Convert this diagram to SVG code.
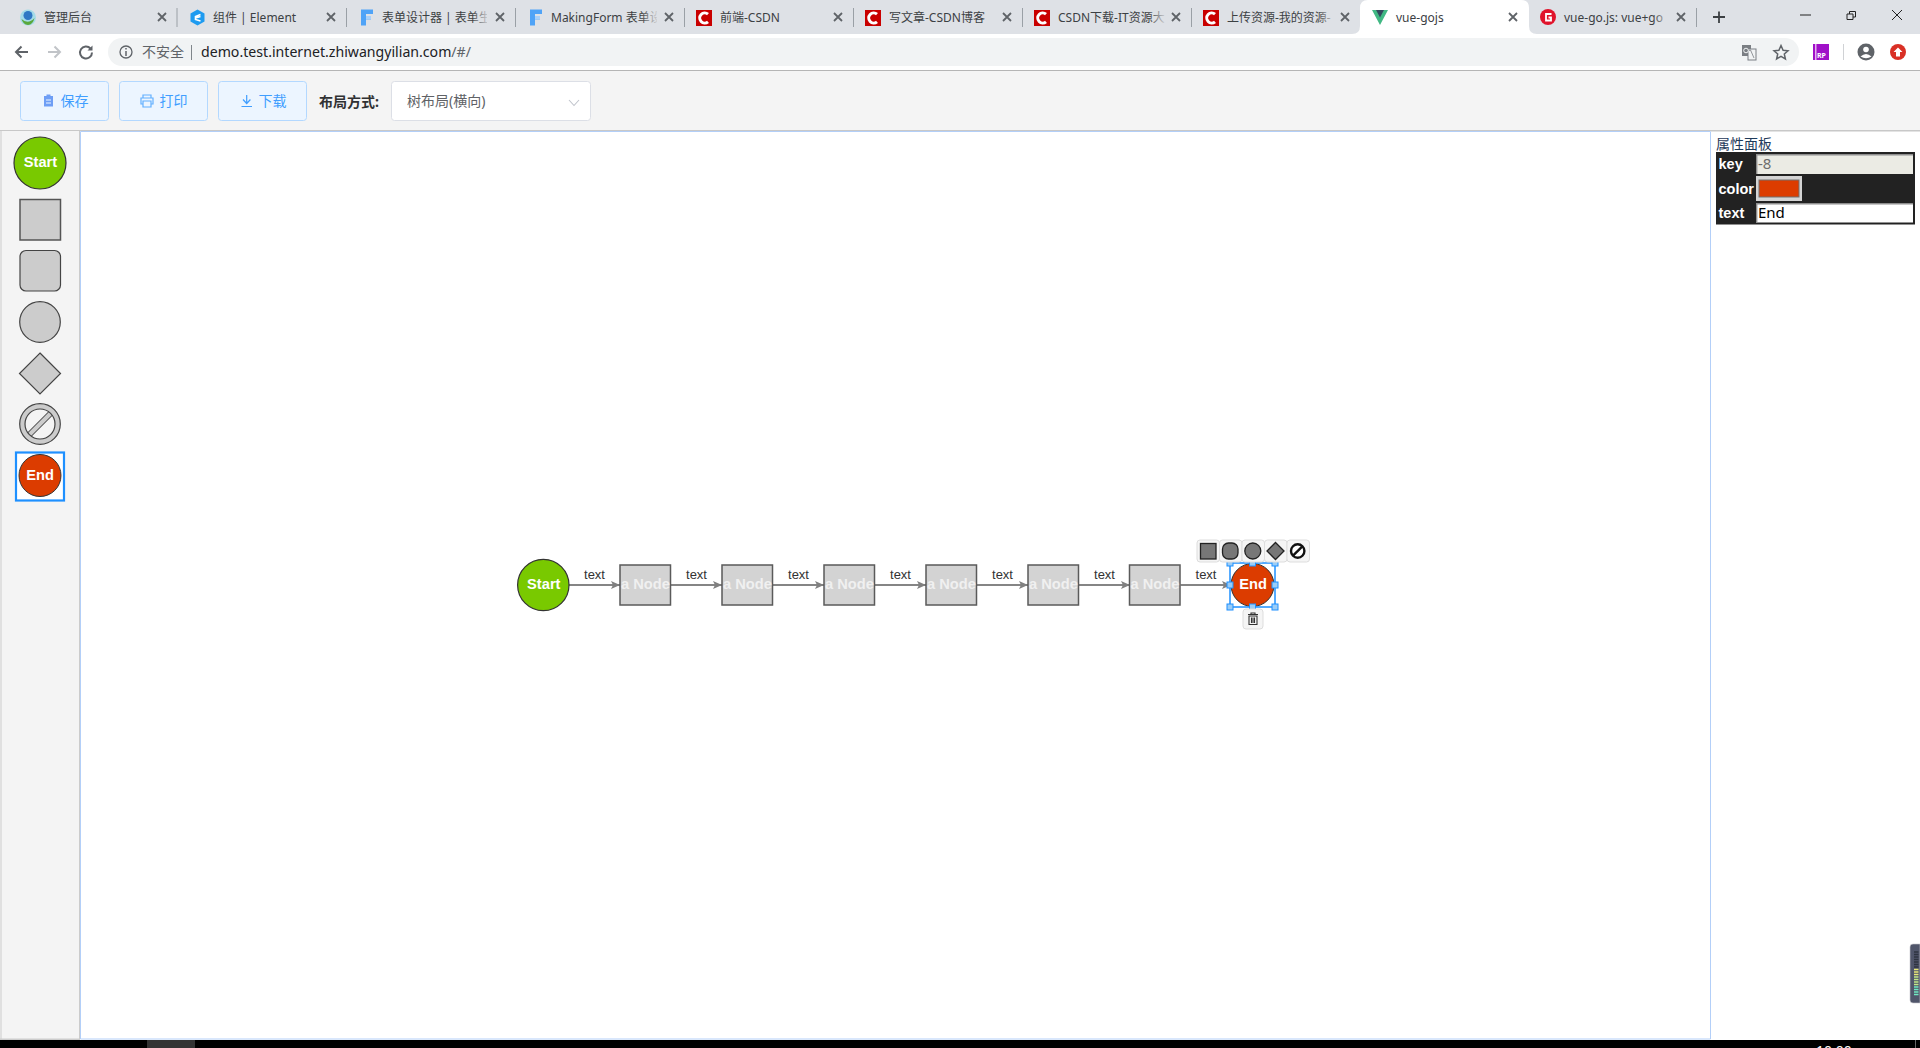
<svg xmlns="http://www.w3.org/2000/svg" xmlns:xlink="http://www.w3.org/1999/xlink" width="1920" height="1048" viewBox="0 0 1920 1048">
<style>
text{font-family:"Noto Sans","Noto Sans CJK SC",sans-serif}
.tab{font-size:12px;fill:#3c4043}
.sep{stroke:#9aa0a6;stroke-width:1}
.btn{fill:#ecf5ff;stroke:#b3d8ff;stroke-width:1}
.btnt{font-size:14px;fill:#409eff}
.ico{fill:none;stroke:#409eff;stroke-width:1.2}
.pal{fill:#ccc;stroke:#444;stroke-width:1.2}
.node{fill:#d3d3d3;stroke:#5a5a5a;stroke-width:1.5}
.nt{font-family:"Liberation Sans",Arial,sans-serif;font-size:14.67px;font-weight:700;fill:#f0f0f0;text-anchor:middle}
.wt{font-family:"Liberation Sans",Arial,sans-serif;font-size:14.67px;font-weight:700;fill:#fff;text-anchor:middle}
.lt{font-family:"Liberation Sans",Arial,sans-serif;font-size:13px;fill:#333;text-anchor:middle}
.link{fill:none;stroke:#858585;stroke-width:2;marker-end:url(#arrow)}
.h{fill:#9bcdf7;stroke:#1e90ff;stroke-width:1}
.ab{fill:#f5f5f5;stroke:#ddd;stroke-width:1}
.abi{fill:#777;stroke:#222;stroke-width:1.3}
.pl{font-family:"Liberation Sans",Arial,sans-serif;font-size:14.5px;font-weight:700;fill:#fff}
</style>
<defs>
<marker id="arrow" markerUnits="userSpaceOnUse" markerWidth="9" markerHeight="10" refX="9" refY="5" orient="auto"><path d="M0 1 L9 5 L0 9 L2 5 Z" fill="#808080"/></marker>
<linearGradient id="fade"><stop offset="0" stop-color="#dee1e6" stop-opacity="0"/><stop offset="1" stop-color="#dee1e6"/></linearGradient>
<g id="x"><path d="M-4 -4 L4 4 M4 -4 L-4 4" stroke="#5f6368" stroke-width="1.8" fill="none"/></g>
<g id="csdn"><rect x="0" y="0" width="16" height="16" fill="#c90000"/><path d="M12 4.2 A5 5 0 1 0 12 11.8" fill="none" stroke="#fff" stroke-width="3"/></g>
<g id="fform"><path d="M0 0 H12 V4.500 H5 V6.500 H10 V10 H5 V16 H0 Z" fill="#4fa3f7"/><rect x="5" y="6.500" width="5" height="3.500" fill="#a8d0fa"/></g>
</defs>
<rect width="1920" height="1048" fill="#fff"/>
<g id="browser-tabs">
<rect x="0" y="0" width="1920" height="34" fill="#dee1e6"/>
<path d="M1352 34 Q1360 34 1360 26 V8 Q1360 0 1368 0 H1521 Q1529 0 1529 8 V26 Q1529 34 1537 34 Z" fill="#fff"/>
<path class="sep" d="M177 8V27M346.500 8V27M515.500 8V27M684.500 8V27M853.500 8V27M1022.500 8V27M1191.500 8V27M1696.500 8V27"/>
<circle cx="28" cy="17.500" r="8" fill="#a4dbe8"/><circle cx="28" cy="15.500" r="4.500" fill="#2f78c4"/><path d="M21.500 19 Q28 25 34.500 18 Q33 24.500 28 25 Q23 24.500 21.500 19Z" fill="#5aa83c"/>
<path d="M197.500 9.500 L204.500 13.500 V21.500 L197.500 25.500 L190.500 21.500 V13.500 Z" fill="#1e9bf0"/><path d="M200.500 14.500 L195.500 16.500 V19.500 L200.500 21 M195.500 18 L200.500 16.500" fill="none" stroke="#fff" stroke-width="1.600"/>
<use href="#fform" x="361" y="9.500"/><use href="#fform" x="530" y="9.500"/>
<use href="#csdn" x="696" y="10"/><use href="#csdn" x="865" y="10"/><use href="#csdn" x="1034" y="10"/><use href="#csdn" x="1203" y="10"/>
<path d="M1372 10 H1388 L1380 25 Z" fill="#41b883"/><path d="M1376 10 H1384 L1380 17.500 Z" fill="#34495e"/>
<circle cx="1548" cy="17" r="8" fill="#e0142c"/><path d="M1551.500 14 H1546 V20.500 H1551 V17.500 H1548.500" fill="none" stroke="#fff" stroke-width="1.800"/>
<text class="tab" x="44" y="22">管理后台</text>
<text class="tab" x="213" y="22">组件 | Element</text>
<text class="tab" x="382" y="22">表单设计器 | 表单生</text>
<text class="tab" x="551" y="22">MakingForm 表单设</text>
<text class="tab" x="720" y="22">前端-CSDN</text>
<text class="tab" x="889" y="22">写文章-CSDN博客</text>
<text class="tab" x="1058" y="22">CSDN下载-IT资源大</text>
<text class="tab" x="1227" y="22">上传资源-我的资源-</text>
<text class="tab" x="1396" y="22">vue-gojs</text>
<text class="tab" x="1564" y="22">vue-go.js: vue+go</text>
<rect x="472" y="6" width="18" height="22" fill="url(#fade)"/><rect x="487" y="6" width="8" height="22" fill="#dee1e6"/>
<rect x="641" y="6" width="18" height="22" fill="url(#fade)"/><rect x="657" y="6" width="7" height="22" fill="#dee1e6"/>
<rect x="1149" y="6" width="18" height="22" fill="url(#fade)"/><rect x="1165" y="6" width="6" height="22" fill="#dee1e6"/>
<rect x="1318" y="6" width="18" height="22" fill="url(#fade)"/><rect x="1334" y="6" width="6" height="22" fill="#dee1e6"/>
<rect x="1653" y="6" width="18" height="22" fill="url(#fade)"/><rect x="1669" y="6" width="6" height="22" fill="#dee1e6"/>
<use href="#x" x="162" y="17"/><use href="#x" x="331" y="17"/><use href="#x" x="500" y="17"/><use href="#x" x="669" y="17"/><use href="#x" x="838" y="17"/><use href="#x" x="1007" y="17"/><use href="#x" x="1176" y="17"/><use href="#x" x="1345" y="17"/><use href="#x" x="1513" y="17"/><use href="#x" x="1681" y="17"/>
<path d="M1719 11.500V23M1713 17H1725" stroke="#3c4043" stroke-width="1.800" fill="none"/>
<path d="M1800 15H1811M1847 14V19.500H1853V14ZM1849.500 14V11.500H1855.500V17H1853M1892 10L1902 20M1902 10L1892 20" stroke="#222" stroke-width="1" fill="none"/>
</g>
<g id="browser-toolbar">
<rect x="0" y="34" width="1920" height="36" fill="#fff"/>
<rect x="0" y="70" width="1920" height="1" fill="#b5b5b5"/>
<rect x="108" y="38" width="1691" height="28" rx="14" fill="#f1f3f4"/>
<path d="M28 52H16M21.500 46.500L16 52L21.500 57.500" fill="none" stroke="#5f6368" stroke-width="2"/>
<path d="M48 52H60M54.500 46.500L60 52L54.500 57.500" fill="none" stroke="#c1c4c8" stroke-width="2"/>
<path d="M90.500 48.500A6 6 0 1 0 92 52.500" fill="none" stroke="#5f6368" stroke-width="2"/><path d="M92.500 45.500V50.500H87.500Z" fill="#5f6368"/>
<circle cx="126" cy="52" r="6" fill="none" stroke="#5f6368" stroke-width="1.300"/><path d="M126 51V56M126 48V49.500" stroke="#5f6368" stroke-width="1.500"/>
<text x="142" y="57" font-size="14" fill="#5f6368">不安全</text>
<rect x="191" y="45" width="1" height="15" fill="#80868b"/>
<text x="201" y="57" font-size="14" fill="#202124" textLength="270" lengthAdjust="spacingAndGlyphs">demo.test.internet.zhiwangyilian.com<tspan fill="#5f6368">/#/</tspan></text>
<rect x="1742" y="45" width="9" height="11" fill="#7a7e83"/><rect x="1748" y="49" width="8" height="11" fill="#f1f3f4" stroke="#7a7e83" stroke-width="1"/><path d="M1749 50.500L1750.500 50L1754 58" stroke="#7a7e83" stroke-width="0.800" fill="none"/><circle cx="1746" cy="50.500" r="2.300" fill="none" stroke="#f1f3f4" stroke-width="1"/>
<path d="M1781 45.500L1783.100 50.200L1788 50.700L1784.300 54L1785.400 59L1781 56.400L1776.600 59L1777.700 54L1774 50.700L1778.900 50.200Z" fill="none" stroke="#5f6368" stroke-width="1.500"/>
<rect x="1813" y="44" width="16" height="16" fill="#a010c8"/><rect x="1815" y="44" width="1.500" height="16" fill="#e6b0f0"/>
<text x="1817" y="58" font-size="7" font-weight="700" fill="#fff">RP</text>
<rect x="1843" y="44" width="1" height="16" fill="#d0d2d5"/>
<circle cx="1866" cy="52" r="8.500" fill="#5f6368"/><circle cx="1866" cy="49.500" r="2.800" fill="#fff"/><path d="M1860.500 56.500Q1866 51.500 1871.500 56.500Q1866 60 1860.500 56.500Z" fill="#fff"/>
<circle cx="1898" cy="52" r="8" fill="#d93025"/><path d="M1898 47.500L1902.500 52H1900V56.500H1896V52H1893.500Z" fill="#fff"/>
</g>
<g id="page-toolbar">
<rect x="0" y="71" width="1920" height="59" fill="#f4f4f4"/>
<rect x="0" y="130" width="1920" height="1.500" fill="#c8c8c8"/>
<g id="btn-save"><rect class="btn" x="20.500" y="81.500" width="88" height="39" rx="3"/>
<g transform="translate(0,6)"><path d="M44 90H53V100.500H44Z" fill="#6e9ef5"/><rect x="46.500" y="88.500" width="4" height="2" fill="#6e9ef5"/><path d="M46 94H51M46 97H51" stroke="#ecf5ff" stroke-width="1"/></g>
<text class="btnt" x="60.500" y="106">保存</text></g>
<g id="btn-print"><rect class="btn" x="119.500" y="81.500" width="88" height="39" rx="3"/>
<path class="ico" stroke-opacity="0.800" transform="translate(0,6)" d="M143 92V89H151V92M143 98H141V92H153V98H151M143 95H151V101H143Z"/>
<text class="btnt" x="159.500" y="106">打印</text></g>
<g id="btn-download"><rect class="btn" x="218.500" y="81.500" width="88" height="39" rx="3"/>
<path class="ico" transform="translate(0,6)" d="M246.700 89V97M243 93.500L246.700 97.500L250.400 93.500M241.500 100.500H252"/>
<text class="btnt" x="258.500" y="106">下载</text></g>
<text x="319" y="107" font-size="14" font-weight="700" fill="#303133" textLength="60">布局方式:</text>
<g id="layout-select"><rect x="391.500" y="81.500" width="199" height="39" rx="3" fill="#fff" stroke="#dcdfe6"/>
<text x="407" y="106" font-size="14" fill="#606266">树布局(横向)</text>
<path d="M569 100L574 105.500L579 100" fill="none" stroke="#c0c4cc" stroke-width="1.100"/></g>
</g>
<g id="workspace">
<rect x="0" y="131" width="80" height="909" fill="#f4f4f4"/>
<rect x="0.500" y="131" width="1" height="909" fill="#ccc"/>
<rect x="79" y="131" width="1" height="909" fill="#ccc"/>
<rect x="0" y="1038.500" width="80" height="1.500" fill="#ccc"/>
<rect x="80" y="131" width="1631" height="908" fill="#fff"/>
<path d="M80.500 1039V131.500H1710.500V1039H80.500" fill="none" stroke="#b3cff8" stroke-width="1"/>
</g>
<g id="palette">
<g id="pal-start"><circle cx="40" cy="163" r="26" fill="#79c900" stroke="#333" stroke-width="1.200"/><text class="wt" x="40.500" y="167">Start</text></g>
<g id="pal-step"><rect x="20" y="199.500" width="40.500" height="40.500" fill="#ccc" stroke="#555" stroke-width="1.500"/></g>
<g id="pal-round"><rect class="pal" x="20" y="250.500" width="40.500" height="40.500" rx="6"/></g>
<g id="pal-circle"><circle class="pal" cx="40" cy="322" r="20.300"/></g>
<g id="pal-diamond"><path class="pal" d="M40 353L60.500 373.500L40 394L19.500 373.500Z"/></g>
<g id="pal-ban"><circle cx="40" cy="424" r="15" fill="#f4f4f4"/>
<path d="M28 436L52 412" stroke="#444" stroke-width="6"/><path d="M28 436L52 412" stroke="#ccc" stroke-width="4"/>
<path class="pal" fill-rule="evenodd" d="M19.700 424A20.300 20.300 0 1 1 60.300 424A20.300 20.300 0 1 1 19.700 424ZM25 424A15 15 0 1 0 55 424A15 15 0 1 0 25 424Z"/></g>
<g id="pal-end"><rect x="16" y="452.500" width="48" height="48" fill="#fff" stroke="#1e90ff" stroke-width="2.200"/><circle cx="40" cy="475.500" r="21" fill="#dc3c00" stroke="#333" stroke-width="1"/><text class="wt" x="40" y="480">End</text></g>
</g>
<g id="connectors">
<path class="link" d="M569 585H620"/><path class="link" d="M671 585H722"/><path class="link" d="M773 585H824"/><path class="link" d="M875 585H926"/><path class="link" d="M977 585H1028"/><path class="link" d="M1079 585H1130"/><path class="link" d="M1180.500 585H1231"/>
<text class="lt" x="594.500" y="579">text</text><text class="lt" x="696.500" y="579">text</text><text class="lt" x="798.500" y="579">text</text><text class="lt" x="900.500" y="579">text</text><text class="lt" x="1002.500" y="579">text</text><text class="lt" x="1104.500" y="579">text</text><text class="lt" x="1206" y="579">text</text>
</g>
<g id="node-start"><circle cx="543.300" cy="585" r="25.700" fill="#79c900" stroke="#333" stroke-width="1.200"/><text class="wt" x="543.800" y="589">Start</text></g>
<g id="node-1"><rect class="node" x="620" y="565" width="50.500" height="40"/><text class="nt" x="645.500" y="589">a Node</text></g>
<g id="node-2"><rect class="node" x="722" y="565" width="50.500" height="40"/><text class="nt" x="747.500" y="589">a Node</text></g>
<g id="node-3"><rect class="node" x="824" y="565" width="50.500" height="40"/><text class="nt" x="849.500" y="589">a Node</text></g>
<g id="node-4"><rect class="node" x="926" y="565" width="50.500" height="40"/><text class="nt" x="951.500" y="589">a Node</text></g>
<g id="node-5"><rect class="node" x="1028" y="565" width="50.500" height="40"/><text class="nt" x="1053.500" y="589">a Node</text></g>
<g id="node-6"><rect class="node" x="1129.500" y="565" width="50.500" height="40"/><text class="nt" x="1155" y="589">a Node</text></g>
<g id="node-end"><circle cx="1252.500" cy="585" r="21.500" fill="#dc3c00" stroke="#333" stroke-width="1"/><text class="wt" x="1253" y="589">End</text></g>
<g id="adornment">
<rect x="1230" y="563" width="45" height="44" fill="none" stroke="#1e90ff" stroke-width="1.500"/>
<rect class="h" x="1227" y="560" width="6" height="6"/><rect class="h" x="1249.500" y="560" width="6" height="6"/><rect class="h" x="1272" y="560" width="6" height="6"/><rect class="h" x="1227" y="582" width="6" height="6"/><rect class="h" x="1272" y="582" width="6" height="6"/><rect class="h" x="1227" y="604" width="6" height="6"/><rect class="h" x="1249.500" y="604" width="6" height="6"/><rect class="h" x="1272" y="604" width="6" height="6"/>
<rect class="ab" x="1197" y="540" width="22.500" height="22" rx="3"/><rect class="ab" x="1219.500" y="540" width="22.500" height="22" rx="3"/><rect class="ab" x="1242" y="540" width="22.500" height="22" rx="3"/><rect class="ab" x="1264.500" y="540" width="22.500" height="22" rx="3"/><rect class="ab" x="1287" y="540" width="22.500" height="22" rx="3"/>
<rect class="abi" x="1200.500" y="543.500" width="15.500" height="15.500"/>
<rect class="abi" x="1222.500" y="543" width="15.500" height="16" rx="6"/>
<circle class="abi" cx="1252.800" cy="551" r="8"/>
<path class="abi" d="M1275.500 542.500L1284 551L1275.500 559.500L1267 551Z"/>
<circle cx="1297.700" cy="551" r="6.700" fill="#fff" stroke="#111" stroke-width="2.400"/><path d="M1293 555.700L1302.400 546.300" stroke="#111" stroke-width="2.400"/>
<rect class="ab" x="1243" y="609" width="20" height="20" rx="3"/>
<path d="M1248 614.500H1258M1251 614.500V613H1255V614.500M1249 616V624.500H1257V616ZM1251.500 617.500V623M1253 617.500V623M1254.500 617.500V623" fill="none" stroke="#333" stroke-width="1.100"/>
</g>
<g id="property-panel">
<text x="1716" y="149" font-size="14" fill="#1f3a5a">属性面板</text>
<rect x="1716" y="152" width="199" height="72.500" fill="#222"/>
<text class="pl" x="1718.500" y="169">key</text>
<text class="pl" x="1718.500" y="194">color</text>
<text class="pl" x="1718.500" y="218">text</text>
<rect x="1756" y="154" width="157" height="20" fill="#ebebe4"/><path d="M1756.700 174V154.700H1913" fill="none" stroke="#8e8e8e" stroke-width="1.400"/>
<text x="1758" y="169" font-family="Liberation Sans" font-size="15" fill="#6d6d6d">-8</text>
<rect x="1756" y="176" width="46" height="25" fill="#d4d4d4"/><rect x="1759" y="180" width="40" height="17" fill="#dc3c00" stroke="#707070" stroke-width="1"/>
<rect x="1756" y="203" width="157" height="19.500" fill="#fff"/><path d="M1756.700 222.500V203.700H1913" fill="none" stroke="#8e8e8e" stroke-width="1.400"/>
<text x="1758" y="218" font-family="Liberation Sans" font-size="15" fill="#000">End</text>
</g>
<g id="side-widget">
<path d="M1920 944H1913Q1910 944 1910 947V1000Q1910 1003 1913 1003H1920Z" fill="#50556a" stroke="#c8c8cc" stroke-width="0.600"/>
<path d="M1914 952H1918.500M1914 954.500H1918.500M1914 957H1918.500M1914 959.500H1918.500M1914 962H1918.500M1914 964.500H1918.500M1914 967H1918.500" stroke="#2e3340" stroke-width="1.400"/>
<path d="M1914 969.500H1918.500M1914 972H1918.500M1914 974.500H1918.500" stroke="#e8e878" stroke-width="1.400"/>
<path d="M1914 977H1918.500M1914 979.500H1918.500M1914 982H1918.500M1914 984.500H1918.500" stroke="#c0e888" stroke-width="1.400"/>
<path d="M1914 987H1918.500M1914 989.500H1918.500M1914 992H1918.500M1914 994.500H1918.500" stroke="#70e8c0" stroke-width="1.400"/>
</g>
<g id="taskbar">
<rect x="0" y="1040" width="1920" height="8" fill="#000"/>
<rect x="147" y="1040" width="48" height="8" fill="#333"/>
<rect x="1915" y="1040" width="1" height="8" fill="#666"/>
<text x="1816" y="1056" font-size="14" fill="#fff">10:00</text>
</g>
</svg>
